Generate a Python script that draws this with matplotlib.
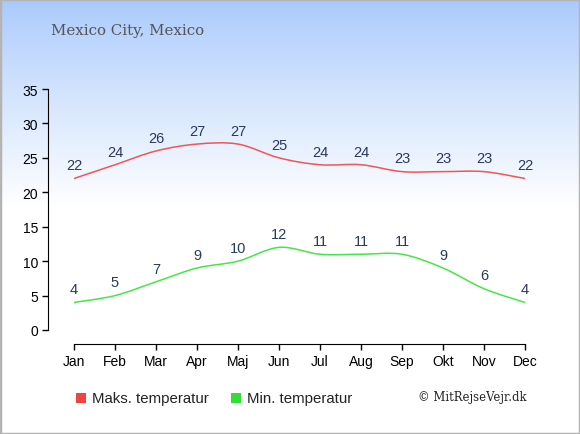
import matplotlib
matplotlib.use("Agg")
import matplotlib.pyplot as plt
import numpy as np
from matplotlib.path import Path
from matplotlib.patches import PathPatch, Rectangle

months = ['Jan', 'Feb', 'Mar', 'Apr', 'Maj', 'Jun', 'Jul', 'Aug', 'Sep', 'Okt', 'Nov', 'Dec']
max_temp = [22, 24, 26, 27, 27, 25, 24, 24, 23, 23, 23, 22]
min_temp = [4, 5, 7, 9, 10, 12, 11, 11, 11, 9, 6, 4]

W, H = 580, 435
fig = plt.figure(figsize=(W / 100, H / 100), dpi=100)

# background gradient, light blue at the top fading to white
bg = fig.add_axes([0, 0, 1, 1], zorder=-10)
top = np.array([0.66, 0.79, 0.99])
frac = np.clip(np.linspace(0, 1, 300) / 0.48, 0, 1)[:, None] ** 0.9
grad = top * (1 - frac) + np.ones(3) * frac
bg.imshow(grad[:, None, :], aspect='auto', extent=[0, 1, 0, 1], origin='upper')
bg.set_axis_off()
fig.patches.append(Rectangle((0, 0), 1, 1, transform=fig.transFigure, fill=False,
                             edgecolor='#b4b4b4', linewidth=2.5))

ax = fig.add_axes([74 / W, (H - 331) / H, (525 - 74) / W, (331 - 90) / H])
ax.patch.set_alpha(0)


def smooth_path(xs, ys):
    # Catmull-Rom style bezier through the data points
    xs = np.asarray(xs, float)
    ys = np.asarray(ys, float)
    verts = [(xs[0], ys[0])]
    codes = [Path.MOVETO]
    n = len(xs)
    for i in range(n - 1):
        p0 = i - 1 if i > 0 else i
        p3 = i + 2 if i + 2 < n else i + 1
        c1 = (xs[i] + (xs[i + 1] - xs[p0]) / 6, ys[i] + (ys[i + 1] - ys[p0]) / 6)
        c2 = (xs[i + 1] - (xs[p3] - xs[i]) / 6, ys[i + 1] - (ys[p3] - ys[i]) / 6)
        verts += [c1, c2, (xs[i + 1], ys[i + 1])]
        codes += [Path.CURVE4] * 3
    return Path(verts, codes)


x = np.arange(len(months))
for vals, col in [(max_temp, '#f25555'), (min_temp, '#44e844')]:
    ax.add_patch(PathPatch(smooth_path(x, vals), facecolor='none', edgecolor=col, lw=1.1))
    for xi, v in zip(x, vals):
        ax.annotate(str(v), (xi, v), xytext=(0, 9.5), textcoords='offset points',
                    ha='center', va='center', fontsize=10.5, color='#2a3a5a',
                    family='Liberation Sans')

ax.set_xlim(0, 11)
ax.set_ylim(0, 35)
ax.set_xticks(x)
ax.set_xticklabels(months)
ax.set_yticks(range(0, 36, 5))
for s in ['top', 'right']:
    ax.spines[s].set_visible(False)
ax.spines['left'].set_position(('outward', 19))
ax.spines['bottom'].set_position(('outward', 10))
ax.tick_params(length=4, width=1, labelsize=10, pad=3)
for lab in ax.get_xticklabels() + ax.get_yticklabels():
    lab.set_family('Liberation Sans')

fig.text(51 / W, 1 - 31 / H, 'Mexico City, Mexico', family='DejaVu Serif', fontsize=10.8,
         color='#555555', va='center', ha='left')

# legend
for xpos, col, label in [(76, '#ee4444', 'Maks. temperatur'), (231, '#33dd33', 'Min. temperatur')]:
    fig.patches.append(Rectangle((xpos / W, 1 - 404 / H), 10 / W, 10 / H, transform=fig.transFigure,
                                 facecolor=col, edgecolor='none'))
    fig.text((xpos + 16) / W, 1 - 399 / H, label, family='Liberation Sans', fontsize=10.8,
             color='#222222', va='center', ha='left')

fig.text(472 / W, 1 - 398 / H, '\u00a9 MitRejseVejr.dk', family='DejaVu Serif', fontsize=8.4,
         color='#222222', va='center', ha='center')

fig.savefig('out.png', dpi=100)
